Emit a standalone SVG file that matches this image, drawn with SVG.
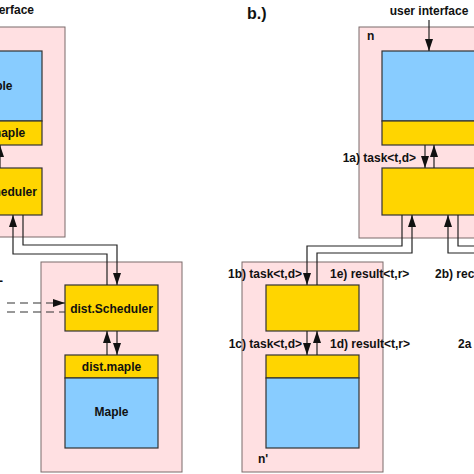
<svg xmlns="http://www.w3.org/2000/svg" width="474" height="474" viewBox="0 0 474 474">
<defs>
<style>
.node{fill:#FFE0E2;stroke:#7a6a6a;stroke-width:1}
.blue{fill:#88CCFF;stroke:#333;stroke-width:1.2}
.yel{fill:#FFD500;stroke:#333;stroke-width:1.2}
.ln{fill:none;stroke:#222;stroke-width:1.2}
.dash{fill:none;stroke:#333;stroke-width:1.2;stroke-dasharray:8 5}
.t{font-family:"Liberation Sans",Arial,sans-serif;font-weight:bold;font-size:12px;fill:#111}
.big{font-size:16px}
</style>
<marker id="ah" markerWidth="12" markerHeight="8" refX="12" refY="4" orient="auto" markerUnits="userSpaceOnUse">
<path d="M0,0 L12,4 L0,8 z" fill="#111"/>
</marker>
</defs>
<rect width="474" height="474" fill="#fff"/>

<!-- left panel a -->
<g id="node-a-top">
<rect class="node" x="-80" y="27" width="145" height="210"/>
<rect class="blue" x="-51" y="51" width="93" height="70"/>
<rect class="yel" x="-51" y="121" width="93" height="24"/>
<rect class="yel" x="-51" y="168" width="93" height="47"/>
<text class="t" x="-4.5" y="90" text-anchor="middle">Maple</text>
<text class="t" x="-4.5" y="137" text-anchor="middle">dist.maple</text>
<text class="t" x="-4.5" y="196" text-anchor="middle">dist.Scheduler</text>
</g>
<text class="t" x="34" y="14" text-anchor="end">user interface</text>
<text class="t" x="3" y="285" text-anchor="end">-</text>

<g id="node-a-bottom">
<rect class="node" x="41" y="262" width="141" height="210"/>
<rect class="yel" x="65" y="285" width="93" height="46"/>
<rect class="yel" x="65" y="355" width="93" height="23"/>
<rect class="blue" x="65" y="378" width="93" height="70"/>
<text class="t" x="111.5" y="313" text-anchor="middle">dist.Scheduler</text>
<text class="t" x="111.5" y="371" text-anchor="middle">dist.maple</text>
<text class="t" x="111.5" y="416" text-anchor="middle">Maple</text>
</g>

<!-- right panel b -->
<text class="t big" x="247" y="19">b.)</text>
<text class="t" x="429" y="15" text-anchor="middle">user interface</text>

<g id="node-n">
<rect class="node" x="359" y="27" width="140" height="211"/>
<rect class="blue" x="382" y="51" width="93" height="70"/>
<rect class="yel" x="382" y="121" width="93" height="24"/>
<rect class="yel" x="382" y="168" width="93" height="47"/>
<text class="t" x="367" y="40">n</text>
</g>

<g id="node-n2">
<rect class="node" x="242" y="262" width="141" height="210"/>
<rect class="yel" x="266" y="285" width="93" height="46"/>
<rect class="yel" x="266" y="355" width="93" height="23"/>
<rect class="blue" x="266" y="378" width="93" height="70"/>
<text class="t" x="258" y="463">n'</text>
</g>

<g id="labels">
<text class="t" x="416" y="162" text-anchor="end">1a) task&lt;t,d&gt;</text>
<text class="t" x="302" y="278" text-anchor="end">1b) task&lt;t,d&gt;</text>
<text class="t" x="330" y="278">1e) result&lt;t,r&gt;</text>
<text class="t" x="302" y="348" text-anchor="end">1c) task&lt;t,d&gt;</text>
<text class="t" x="330" y="348">1d) result&lt;t,r&gt;</text>
<text class="t" x="435" y="278">2b) rec</text>
<text class="t" x="458" y="348">2a</text>
</g>

<g id="connectors">
<!-- left panel -->
<path class="ln" d="M-9.5,145 L-9.5,168" marker-end="url(#ah)"/>
<path class="ln" d="M0,168 L0,145" marker-end="url(#ah)"/>
<path class="ln" d="M107,285 L107,254 L13,254 L13,215" marker-end="url(#ah)"/>
<path class="ln" d="M23,215 L23,245 L117,245 L117,285" marker-end="url(#ah)"/>
<path class="ln" d="M117,331 L117,355" marker-end="url(#ah)"/>
<path class="ln" d="M107,355 L107,331" marker-end="url(#ah)"/>
<path class="dash" d="M7,303 L65,303" marker-end="url(#ah)"/>
<path class="dash" d="M7,312 L65,312"/>
<!-- right panel -->
<path class="ln" d="M429,20 L429,51" marker-end="url(#ah)"/>
<path class="ln" d="M425,145 L425,168" marker-end="url(#ah)"/>
<path class="ln" d="M434,168 L434,145" marker-end="url(#ah)"/>
<path class="ln" d="M402,215 L402,246 L307,246 L307,285" marker-end="url(#ah)"/>
<path class="ln" d="M317,285 L317,253 L412,253 L412,215" marker-end="url(#ah)"/>
<path class="ln" d="M480,253 L448,253 L448,215" marker-end="url(#ah)"/>
<path class="ln" d="M458,215 L458,246 L480,246"/>
<path class="ln" d="M307,331 L307,355" marker-end="url(#ah)"/>
<path class="ln" d="M317,355 L317,331" marker-end="url(#ah)"/>
</g>
</svg>
